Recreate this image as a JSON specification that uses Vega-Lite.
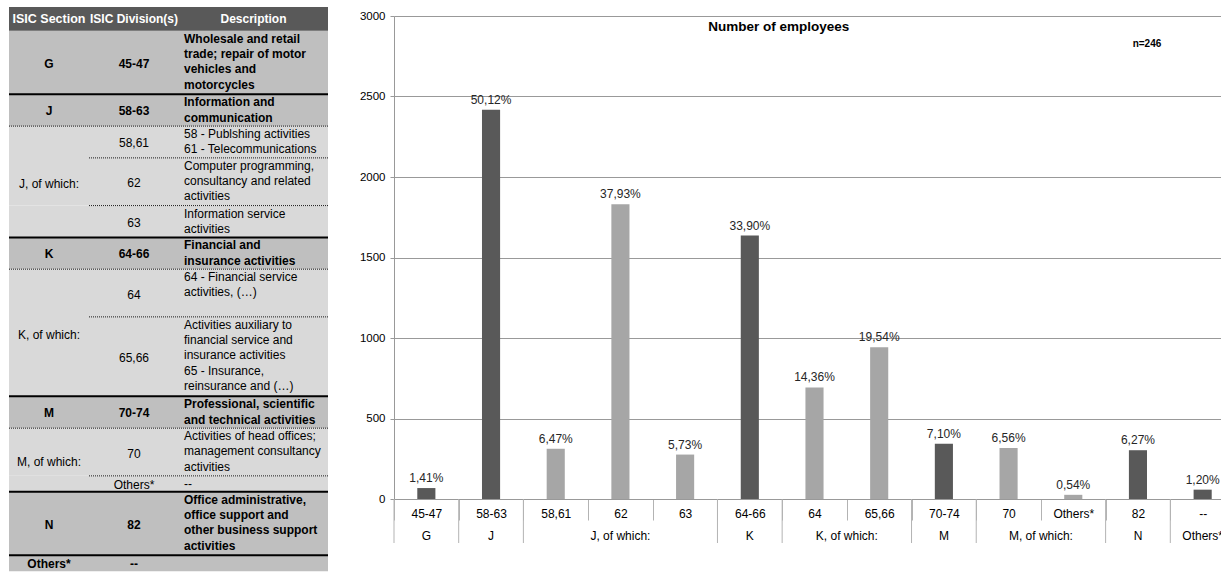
{
  "$schema": "https://vega.github.io/schema/vega-lite/v6.json",
  "padding": {"top": 7, "left": 8, "right": 0, "bottom": 0},
  "bounds": "flush",
  "spacing": 66,
  "config": {
    "view": {"stroke": null},
    "font": "Liberation Sans",
    "locale": {"number": {"decimal": ",", "thousands": ".", "grouping": [3], "currency": ["", " €"]}}
  },
  "resolve": {"scale": {"x": "independent", "y": "independent"}},
  "datasets": {
    "divisions": [
      {"group": "G", "level": "section", "division": "45-47", "description": "Wholesale and retail\ntrade; repair of motor\nvehicles and\nmotorcycles", "lines": 4, "employees": 68, "share": 0.0141},
      {"group": "J", "level": "section", "division": "58-63", "description": "Information and\ncommunication", "lines": 2, "employees": 2418, "share": 0.5012},
      {"group": "J, of which:", "level": "sub", "division": "58,61", "description": "58 - Publshing activities\n61 - Telecommunications", "lines": 2, "employees": 312, "share": 0.0647},
      {"group": "J, of which:", "level": "sub", "division": "62", "description": "Computer programming,\nconsultancy and related\nactivities", "lines": 3, "employees": 1830, "share": 0.3793},
      {"group": "J, of which:", "level": "sub", "division": "63", "description": "Information service\nactivities", "lines": 2, "employees": 276, "share": 0.0573},
      {"group": "K", "level": "section", "division": "64-66", "description": "Financial and\ninsurance activities", "lines": 2, "employees": 1636, "share": 0.339},
      {"group": "K, of which:", "level": "sub", "division": "64", "description": "64 - Financial service\nactivities, (…)", "lines": 3, "employees": 693, "share": 0.1436},
      {"group": "K, of which:", "level": "sub", "division": "65,66", "description": "Activities auxiliary to\nfinancial service and\n\u00a0insurance activities\n65 - Insurance,\nreinsurance and (…)", "lines": 5, "employees": 943, "share": 0.1954},
      {"group": "M", "level": "section", "division": "70-74", "description": "Professional, scientific\nand technical activities", "lines": 2, "employees": 343, "share": 0.071},
      {"group": "M, of which:", "level": "sub", "division": "70", "description": "Activities of head offices;\nmanagement consultancy\nactivities", "lines": 3, "employees": 317, "share": 0.0656},
      {"group": "M, of which:", "level": "sub", "division": "Others*", "description": "--", "lines": 1, "employees": 26, "share": 0.0054},
      {"group": "N", "level": "section", "division": "82", "description": "Office administrative,\noffice support and\nother business support\nactivities", "lines": 4, "employees": 303, "share": 0.0627},
      {"group": "Others*", "level": "section", "division": "--", "description": "", "lines": 1, "employees": 58, "share": 0.012}
    ],
    "columns": [
      {"column": "ISIC Section"},
      {"column": "ISIC Division(s)"},
      {"column": "Description"}
    ],
    "notes": [
      {"note": "Number of employees", "kind": "title"},
      {"note": "n=246", "kind": "sample"}
    ]
  },
  "hconcat": [
    {
      "width": 319,
      "height": 557,
      "data": {"name": "divisions"},
      "transform": [
        {"window": [
          {"op": "row_number", "as": "row"},
          {"op": "sum", "field": "lines", "as": "end"},
          {"op": "lag", "field": "level", "as": "above"}
        ], "frame": [null, 0]},
        {"calculate": "datum.end - datum.lines", "as": "start"},
        {"calculate": "datum.start + datum.lines / 2", "as": "mid"}
      ],
      "layer": [
        {
          "mark": {"type": "rect"},
          "encoding": {
            "x": {"datum": 0, "type": "quantitative", "scale": {"domain": [0, 319], "nice": false, "zero": false}, "axis": null},
            "x2": {"datum": 319},
            "y": {"field": "start", "type": "quantitative", "scale": {"domain": [-0.925, 34.11], "reverse": true, "nice": false, "zero": false}, "axis": null},
            "y2": {"field": "end"},
            "color": {"condition": {"test": "datum.level === 'section'", "value": "#bfbfbf"}, "value": "#d9d9d9"}
          }
        },
        {
          "data": {"name": "columns"},
          "transform": [{"aggregate": [{"op": "count", "as": "n"}]}],
          "mark": {"type": "rect", "color": "#595959"},
          "encoding": {
            "x": {"datum": 0, "type": "quantitative"},
            "x2": {"datum": 319},
            "y": {"datum": -1.49, "type": "quantitative"},
            "y2": {"datum": 0}
          }
        },
        {
          "data": {"name": "columns"},
          "transform": [{"filter": "datum.column === 'ISIC Section'"}],
          "mark": {"type": "text", "color": "#ffffff", "fontWeight": "bold", "fontSize": 12.5, "baseline": "middle"},
          "encoding": {
            "x": {"datum": 40, "type": "quantitative"},
            "y": {"datum": -0.745, "type": "quantitative"},
            "text": {"field": "column"}
          }
        },
        {
          "data": {"name": "columns"},
          "transform": [{"filter": "datum.column === 'ISIC Division(s)'"}],
          "mark": {"type": "text", "color": "#ffffff", "fontWeight": "bold", "fontSize": 12, "baseline": "middle"},
          "encoding": {
            "x": {"datum": 125, "type": "quantitative"},
            "y": {"datum": -0.745, "type": "quantitative"},
            "text": {"field": "column"}
          }
        },
        {
          "data": {"name": "columns"},
          "transform": [{"filter": "datum.column === 'Description'"}],
          "mark": {"type": "text", "color": "#ffffff", "fontWeight": "bold", "fontSize": 12, "baseline": "middle"},
          "encoding": {
            "x": {"datum": 244.5, "type": "quantitative"},
            "y": {"datum": -0.745, "type": "quantitative"},
            "text": {"field": "column"}
          }
        },
        {
          "transform": [
            {"aggregate": [{"op": "min", "field": "start", "as": "top"}, {"op": "max", "field": "end", "as": "bottom"}], "groupby": ["group", "level"]},
            {"calculate": "(datum.top + datum.bottom) / 2", "as": "centre"},
            {"filter": "datum.level === 'section'"}
          ],
          "mark": {"type": "text", "fontWeight": "bold", "fontSize": 12, "baseline": "middle", "color": "#000000", "dy": 1},
          "encoding": {
            "x": {"datum": 40, "type": "quantitative"},
            "y": {"field": "centre", "type": "quantitative"},
            "text": {"field": "group"}
          }
        },
        {
          "transform": [
            {"aggregate": [{"op": "min", "field": "start", "as": "top"}, {"op": "max", "field": "end", "as": "bottom"}], "groupby": ["group", "level"]},
            {"calculate": "(datum.top + datum.bottom) / 2", "as": "centre"},
            {"filter": "datum.level === 'sub'"}
          ],
          "mark": {"type": "text", "fontSize": 12, "baseline": "middle", "color": "#000000", "dy": 2},
          "encoding": {
            "x": {"datum": 40, "type": "quantitative"},
            "y": {"field": "centre", "type": "quantitative"},
            "text": {"field": "group"}
          }
        },
        {
          "transform": [{"filter": "datum.level === 'section'"}],
          "mark": {"type": "text", "fontWeight": "bold", "fontSize": 12, "baseline": "middle", "color": "#000000", "dy": 1},
          "encoding": {
            "x": {"datum": 125, "type": "quantitative"},
            "y": {"field": "mid", "type": "quantitative"},
            "text": {"field": "division"}
          }
        },
        {
          "transform": [{"filter": "datum.level === 'sub'"}],
          "mark": {"type": "text", "fontSize": 12, "baseline": "middle", "color": "#000000", "dy": 1.5},
          "encoding": {
            "x": {"datum": 125, "type": "quantitative"},
            "y": {"field": "mid", "type": "quantitative"},
            "text": {"field": "division"}
          }
        },
        {
          "transform": [{"filter": "datum.level === 'section'"}],
          "mark": {"type": "text", "fontWeight": "bold", "fontSize": 12, "align": "left", "baseline": "top", "lineBreak": "\n", "lineHeight": 15.3, "color": "#000000", "dy": 3},
          "encoding": {
            "x": {"datum": 175, "type": "quantitative"},
            "y": {"field": "start", "type": "quantitative"},
            "text": {"field": "description"}
          }
        },
        {
          "transform": [{"filter": "datum.level === 'sub'"}],
          "mark": {"type": "text", "fontSize": 12, "align": "left", "baseline": "top", "lineBreak": "\n", "lineHeight": 15.3, "color": "#000000", "dy": 3},
          "encoding": {
            "x": {"datum": 175, "type": "quantitative"},
            "y": {"field": "start", "type": "quantitative"},
            "text": {"field": "description"}
          }
        },
        {
          "transform": [{"filter": "datum.level === 'section' && datum.row > 1"}],
          "mark": {"type": "rule", "color": "#000000", "strokeWidth": 2},
          "encoding": {
            "x": {"datum": 0, "type": "quantitative"},
            "x2": {"datum": 319},
            "y": {"field": "start", "type": "quantitative"}
          }
        },
        {
          "transform": [{"filter": "datum.level === 'sub' && datum.above === 'section'"}],
          "mark": {"type": "rule", "color": "#1a1a1a", "strokeWidth": 1, "strokeDash": [1, 1]},
          "encoding": {
            "x": {"datum": 0, "type": "quantitative"},
            "x2": {"datum": 319},
            "y": {"field": "start", "type": "quantitative"}
          }
        },
        {
          "transform": [{"filter": "datum.level === 'sub' && datum.above === 'sub'"}],
          "mark": {"type": "rule", "color": "#1a1a1a", "strokeWidth": 1, "strokeDash": [1, 1]},
          "encoding": {
            "x": {"datum": 80, "type": "quantitative"},
            "x2": {"datum": 319},
            "y": {"field": "start", "type": "quantitative"}
          }
        }
      ]
    },
    {
      "width": 841,
      "height": 483,
      "data": {"name": "divisions"},
      "transform": [
        {"window": [{"op": "row_number", "as": "idx"}, {"op": "count", "as": "span"}], "groupby": ["group"], "frame": [null, null]}
      ],
      "layer": [
        {
          "mark": {"type": "bar", "width": {"band": 0.28}},
          "encoding": {
            "x": {
              "field": "division", "type": "nominal", "sort": null,
              "scale": {"paddingInner": 0, "paddingOuter": 0},
              "axis": {"title": null, "labelAngle": 0, "labelFontSize": 12, "labelColor": "#000000", "tickBand": "extent", "tickSize": 21, "tickColor": "#b3b3b3", "domainColor": "#999999", "labelPadding": -11.5}
            },
            "y": {
              "field": "employees", "type": "quantitative",
              "scale": {"domain": [0, 3000], "nice": false},
              "axis": {"title": null, "values": [0, 500, 1000, 1500, 2000, 2500, 3000], "format": "d", "grid": true, "gridColor": "#999999", "domainColor": "#999999", "tickColor": "#999999", "tickSize": 4, "labelFontSize": 11.5, "labelColor": "#000000", "labelPadding": 5}
            },
            "color": {"condition": {"test": "datum.level === 'section'", "value": "#595959"}, "value": "#a6a6a6"}
          }
        },
        {
          "mark": {"type": "text", "baseline": "alphabetic", "dy": -6, "fontSize": 12, "color": "#262626"},
          "encoding": {
            "x": {"field": "division", "type": "nominal", "sort": null},
            "y": {"field": "employees", "type": "quantitative"},
            "text": {"field": "share", "type": "quantitative", "format": ".2%"}
          }
        },
        {
          "transform": [{"filter": "datum.idx === 1"}],
          "mark": {"type": "rule", "color": "#b3b3b3", "y2Offset": 44},
          "encoding": {
            "x": {"field": "division", "type": "nominal", "sort": null, "bandPosition": 0},
            "y": {"value": "height"},
            "y2": {"value": "height"}
          }
        },
        {
          "transform": [{"filter": "datum.span % 2 === 1 && datum.idx === (datum.span + 1) / 2"}],
          "mark": {"type": "text", "baseline": "middle", "fontSize": 12, "color": "#000000", "dy": 37},
          "encoding": {
            "x": {"field": "division", "type": "nominal", "sort": null},
            "y": {"value": "height"},
            "text": {"field": "group"}
          }
        },
        {
          "transform": [{"filter": "datum.span % 2 === 0 && datum.idx === datum.span / 2 + 1"}],
          "mark": {"type": "text", "baseline": "middle", "fontSize": 12, "color": "#000000", "dy": 37},
          "encoding": {
            "x": {"field": "division", "type": "nominal", "sort": null, "bandPosition": 0},
            "y": {"value": "height"},
            "text": {"field": "group"}
          }
        },
        {
          "data": {"name": "notes"},
          "transform": [{"filter": "datum.kind === 'title'"}],
          "mark": {"type": "text", "baseline": "middle", "fontSize": 13.5, "fontWeight": "bold", "color": "#000000", "dx": 29},
          "encoding": {
            "x": {"datum": "64-66", "type": "nominal"},
            "y": {"datum": 2930, "type": "quantitative"},
            "text": {"field": "note"}
          }
        },
        {
          "data": {"name": "notes"},
          "transform": [{"filter": "datum.kind === 'sample'"}],
          "mark": {"type": "text", "baseline": "middle", "fontSize": 10, "fontWeight": "bold", "color": "#000000", "dx": 9},
          "encoding": {
            "x": {"datum": "82", "type": "nominal"},
            "y": {"datum": 2825, "type": "quantitative"},
            "text": {"field": "note"}
          }
        }
      ]
    }
  ]
}
